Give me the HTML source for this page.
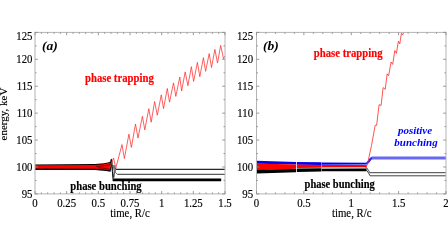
<!DOCTYPE html>
<html><head><meta charset="utf-8"><style>
html,body{margin:0;padding:0;background:#fff;overflow:hidden}
svg{display:block;filter:blur(0.3px)}
</style></head><body>
<svg width="448" height="252" viewBox="0 0 448 252">
<rect width="448" height="252" fill="#fff"/>
<path d="M35.00 164.40 L95.00 164.10 L104.00 163.30 L108.00 162.40 L110.60 161.60 L111.20 166.00 L110.60 171.80 L106.00 171.10 L100.00 170.40 L95.00 170.10 L35.00 169.90 Z" fill="#000"/>
<path d="M35.00 165.30 L95.00 165.10 L103.00 164.30 L107.00 163.40 L110.00 162.60 L110.40 166.00 L110.00 170.30 L105.00 169.70 L100.00 169.10 L95.00 168.70 L35.00 168.50 Z" fill="#f00"/>
<polyline points="96.00,166.50 100.00,166.20 104.00,165.80 108.00,165.20 110.50,164.50" stroke="#300" stroke-width="0.6" fill="none" stroke-linejoin="round" />
<polyline points="98.00,167.80 103.00,168.20 107.00,168.80 110.50,169.40" stroke="#200" stroke-width="0.6" fill="none" stroke-linejoin="round" />
<polyline points="110.50,163.00 111.30,159.20 112.30,170.00 113.20,180.80 114.30,179.80" stroke="#000" stroke-width="1.1" fill="none" stroke-linejoin="round" />
<polyline points="110.60,170.50 111.80,161.00 113.00,174.00 113.80,177.50 115.30,168.20 116.30,169.40" stroke="#222" stroke-width="0.8" fill="none" stroke-linejoin="round" />
<polyline points="112.50,172.00 114.00,165.00 115.50,172.50 117.30,174.30" stroke="#333" stroke-width="0.7" fill="none" stroke-linejoin="round" />
<path d="M116 169.4 H225.0" stroke="#262626" stroke-width="1.1"/>
<path d="M117.3 174.3 H225.0" stroke="#333" stroke-width="1"/>
<path d="M113.5 179.9 H221.2" stroke="#000" stroke-width="2.7"/>
<polyline points="109.50,168.00 112.20,161.00 113.60,158.00 115.80,168.00 122.00,144.60 124.40,158.50 128.90,134.20 131.40,147.40 135.50,124.10 138.00,138.00 142.40,116.30 144.80,129.90 148.80,108.70 151.20,122.20 154.60,101.60 157.30,115.20 161.30,94.80 163.50,108.70 167.30,88.50 169.50,102.10 173.50,82.90 175.80,96.40 179.80,77.00 181.60,91.00 185.20,71.90 187.90,85.70 191.40,66.70 193.60,81.40 197.40,62.40 199.80,76.70 203.40,57.70 205.60,71.30 209.20,53.60 211.50,67.50 214.90,49.40 217.50,63.10 220.70,45.40 223.50,58.70 225.00,56.00" stroke="#ff2a2a" stroke-width="0.75" fill="none" stroke-linejoin="round" />
<path d="M256.80 160.70 L296.00 161.90 L296.00 164.60 L256.80 163.80 Z" fill="#0000f5"/>
<path d="M256.80 163.60 L296.00 164.40 L296.00 168.80 L256.80 170.20 Z" fill="#f00"/>
<path d="M256.80 170.00 L296.00 168.70 L296.00 172.20 L256.80 173.50 Z" fill="#000"/>
<path d="M296.80 162.00 L321.50 162.30 L321.50 165.00 L296.80 164.70 Z" fill="#0000f5"/>
<path d="M296.80 164.60 L321.50 164.90 L321.50 167.70 L296.80 167.90 Z" fill="#f00"/>
<path d="M296.80 168.60 L321.50 168.20 L321.50 171.50 L296.80 171.90 Z" fill="#000"/>
<path d="M321.90 162.60 L366.60 162.70 L366.60 164.60 L321.90 164.80 Z" fill="#0000f5"/>
<path d="M321.90 165.10 L366.60 164.90 L366.60 167.20 L321.90 167.50 Z" fill="#f00"/>
<path d="M321.90 167.50 L366.60 167.20 L366.60 168.40 L321.90 168.60 Z" fill="#a9cfcf"/>
<path d="M321.90 168.70 L366.60 168.60 L366.60 171.30 L321.90 171.30 Z" fill="#000"/>
<polyline points="366.20,164.00 368.50,161.80 370.50,159.00 372.50,157.60" stroke="#2a2aff" stroke-width="2.2" fill="none" stroke-linejoin="round" />
<path d="M372 158.0 H446.0" stroke="#6868f5" stroke-width="2.8"/>
<polyline points="366.40,167.50 368.50,170.40 369.80,172.70 446.00,172.70" stroke="#404040" stroke-width="1" fill="none" stroke-linejoin="round" />
<polyline points="366.40,170.00 368.60,173.00 370.00,175.80 446.00,175.80" stroke="#404040" stroke-width="1" fill="none" stroke-linejoin="round" />
<polyline points="365.50,168.20 367.40,164.40 371.50,145.50 375.20,125.20 376.60,125.40 379.10,104.70 381.10,105.40 383.10,87.60 385.20,89.30 387.20,73.80 388.60,75.80 391.10,62.00 392.70,64.40 394.80,50.60 396.40,53.30 398.40,41.10 399.80,43.90 401.40,33.30 402.60,35.00 403.70,32.40" stroke="#ff2a2a" stroke-width="0.8" fill="none" stroke-linejoin="round" />
<rect x="35.0" y="32.4" width="190.0" height="161.5" fill="none" stroke="#b4b4b4" stroke-width="1"/>
<path d="M41.33 193.9v-1.5M41.33 32.4v1.5M47.67 193.9v-1.5M47.67 32.4v1.5M54.00 193.9v-1.5M54.00 32.4v1.5M60.33 193.9v-1.5M60.33 32.4v1.5M73.00 193.9v-1.5M73.00 32.4v1.5M79.33 193.9v-1.5M79.33 32.4v1.5M85.67 193.9v-1.5M85.67 32.4v1.5M92.00 193.9v-1.5M92.00 32.4v1.5M104.67 193.9v-1.5M104.67 32.4v1.5M111.00 193.9v-1.5M111.00 32.4v1.5M117.33 193.9v-1.5M117.33 32.4v1.5M123.67 193.9v-1.5M123.67 32.4v1.5M136.33 193.9v-1.5M136.33 32.4v1.5M142.67 193.9v-1.5M142.67 32.4v1.5M149.00 193.9v-1.5M149.00 32.4v1.5M155.33 193.9v-1.5M155.33 32.4v1.5M168.00 193.9v-1.5M168.00 32.4v1.5M174.33 193.9v-1.5M174.33 32.4v1.5M180.67 193.9v-1.5M180.67 32.4v1.5M187.00 193.9v-1.5M187.00 32.4v1.5M199.67 193.9v-1.5M199.67 32.4v1.5M206.00 193.9v-1.5M206.00 32.4v1.5M212.33 193.9v-1.5M212.33 32.4v1.5M218.67 193.9v-1.5M218.67 32.4v1.5M35.00 193.9v-2.8M35.00 32.4v2.8M66.67 193.9v-2.8M66.67 32.4v2.8M98.33 193.9v-2.8M98.33 32.4v2.8M130.00 193.9v-2.8M130.00 32.4v2.8M161.67 193.9v-2.8M161.67 32.4v2.8M193.33 193.9v-2.8M193.33 32.4v2.8M225.00 193.9v-2.8M225.00 32.4v2.8M35.0 193.90h2.8M225.0 193.90h-2.8M35.0 180.44h1.5M225.0 180.44h-1.5M35.0 166.98h2.8M225.0 166.98h-2.8M35.0 153.53h1.5M225.0 153.53h-1.5M35.0 140.07h2.8M225.0 140.07h-2.8M35.0 126.61h1.5M225.0 126.61h-1.5M35.0 113.15h2.8M225.0 113.15h-2.8M35.0 99.69h1.5M225.0 99.69h-1.5M35.0 86.23h2.8M225.0 86.23h-2.8M35.0 72.78h1.5M225.0 72.78h-1.5M35.0 59.32h2.8M225.0 59.32h-2.8M35.0 45.86h1.5M225.0 45.86h-1.5M35.0 32.40h2.8M225.0 32.40h-2.8" stroke="#8c8c8c" stroke-width="0.9" fill="none"/>
<rect x="256.5" y="32.4" width="189.5" height="161.5" fill="none" stroke="#b4b4b4" stroke-width="1"/>
<path d="M265.98 193.9v-1.5M265.98 32.4v1.5M275.45 193.9v-1.5M275.45 32.4v1.5M284.93 193.9v-1.5M284.93 32.4v1.5M294.40 193.9v-1.5M294.40 32.4v1.5M313.35 193.9v-1.5M313.35 32.4v1.5M322.82 193.9v-1.5M322.82 32.4v1.5M332.30 193.9v-1.5M332.30 32.4v1.5M341.77 193.9v-1.5M341.77 32.4v1.5M360.73 193.9v-1.5M360.73 32.4v1.5M370.20 193.9v-1.5M370.20 32.4v1.5M379.68 193.9v-1.5M379.68 32.4v1.5M389.15 193.9v-1.5M389.15 32.4v1.5M408.10 193.9v-1.5M408.10 32.4v1.5M417.58 193.9v-1.5M417.58 32.4v1.5M427.05 193.9v-1.5M427.05 32.4v1.5M436.52 193.9v-1.5M436.52 32.4v1.5M256.50 193.9v-2.8M256.50 32.4v2.8M303.88 193.9v-2.8M303.88 32.4v2.8M351.25 193.9v-2.8M351.25 32.4v2.8M398.62 193.9v-2.8M398.62 32.4v2.8M446.00 193.9v-2.8M446.00 32.4v2.8M256.5 193.90h2.8M446.0 193.90h-2.8M256.5 180.44h1.5M446.0 180.44h-1.5M256.5 166.98h2.8M446.0 166.98h-2.8M256.5 153.53h1.5M446.0 153.53h-1.5M256.5 140.07h2.8M446.0 140.07h-2.8M256.5 126.61h1.5M446.0 126.61h-1.5M256.5 113.15h2.8M446.0 113.15h-2.8M256.5 99.69h1.5M446.0 99.69h-1.5M256.5 86.23h2.8M446.0 86.23h-2.8M256.5 72.78h1.5M446.0 72.78h-1.5M256.5 59.32h2.8M446.0 59.32h-2.8M256.5 45.86h1.5M446.0 45.86h-1.5M256.5 32.40h2.8M446.0 32.40h-2.8" stroke="#8c8c8c" stroke-width="0.9" fill="none"/>
<text transform="translate(32.50,197.90) scale(0.9,1)" font-family="Liberation Serif, serif" font-size="12" text-anchor="end" stroke="#000" stroke-width="0.15">95</text>
<text transform="translate(32.50,170.98) scale(0.9,1)" font-family="Liberation Serif, serif" font-size="12" text-anchor="end" stroke="#000" stroke-width="0.15">100</text>
<text transform="translate(32.50,144.07) scale(0.9,1)" font-family="Liberation Serif, serif" font-size="12" text-anchor="end" stroke="#000" stroke-width="0.15">105</text>
<text transform="translate(32.50,117.15) scale(0.9,1)" font-family="Liberation Serif, serif" font-size="12" text-anchor="end" stroke="#000" stroke-width="0.15">110</text>
<text transform="translate(32.50,90.23) scale(0.9,1)" font-family="Liberation Serif, serif" font-size="12" text-anchor="end" stroke="#000" stroke-width="0.15">115</text>
<text transform="translate(32.50,63.32) scale(0.9,1)" font-family="Liberation Serif, serif" font-size="12" text-anchor="end" stroke="#000" stroke-width="0.15">120</text>
<text transform="translate(32.50,40.00) scale(0.9,1)" font-family="Liberation Serif, serif" font-size="12" text-anchor="end" stroke="#000" stroke-width="0.15">125</text>
<text transform="translate(253.10,197.90) scale(0.9,1)" font-family="Liberation Serif, serif" font-size="12" text-anchor="end" stroke="#000" stroke-width="0.15">95</text>
<text transform="translate(253.10,170.98) scale(0.9,1)" font-family="Liberation Serif, serif" font-size="12" text-anchor="end" stroke="#000" stroke-width="0.15">100</text>
<text transform="translate(253.10,144.07) scale(0.9,1)" font-family="Liberation Serif, serif" font-size="12" text-anchor="end" stroke="#000" stroke-width="0.15">105</text>
<text transform="translate(253.10,117.15) scale(0.9,1)" font-family="Liberation Serif, serif" font-size="12" text-anchor="end" stroke="#000" stroke-width="0.15">110</text>
<text transform="translate(253.10,90.23) scale(0.9,1)" font-family="Liberation Serif, serif" font-size="12" text-anchor="end" stroke="#000" stroke-width="0.15">115</text>
<text transform="translate(253.10,63.32) scale(0.9,1)" font-family="Liberation Serif, serif" font-size="12" text-anchor="end" stroke="#000" stroke-width="0.15">120</text>
<text transform="translate(253.10,40.00) scale(0.9,1)" font-family="Liberation Serif, serif" font-size="12" text-anchor="end" stroke="#000" stroke-width="0.15">125</text>
<text transform="translate(35.00,207.20) scale(0.9,1)" font-family="Liberation Serif, serif" font-size="12" text-anchor="middle" stroke="#000" stroke-width="0.15">0</text>
<text transform="translate(66.67,207.20) scale(0.9,1)" font-family="Liberation Serif, serif" font-size="12" text-anchor="middle" stroke="#000" stroke-width="0.15">0.25</text>
<text transform="translate(98.33,207.20) scale(0.9,1)" font-family="Liberation Serif, serif" font-size="12" text-anchor="middle" stroke="#000" stroke-width="0.15">0.5</text>
<text transform="translate(130.00,207.20) scale(0.9,1)" font-family="Liberation Serif, serif" font-size="12" text-anchor="middle" stroke="#000" stroke-width="0.15">0.75</text>
<text transform="translate(161.67,207.20) scale(0.9,1)" font-family="Liberation Serif, serif" font-size="12" text-anchor="middle" stroke="#000" stroke-width="0.15">1</text>
<text transform="translate(193.33,207.20) scale(0.9,1)" font-family="Liberation Serif, serif" font-size="12" text-anchor="middle" stroke="#000" stroke-width="0.15">1.25</text>
<text transform="translate(225.00,207.20) scale(0.9,1)" font-family="Liberation Serif, serif" font-size="12" text-anchor="middle" stroke="#000" stroke-width="0.15">1.5</text>
<text transform="translate(256.50,207.20) scale(0.9,1)" font-family="Liberation Serif, serif" font-size="12" text-anchor="middle" stroke="#000" stroke-width="0.15">0</text>
<text transform="translate(303.88,207.20) scale(0.9,1)" font-family="Liberation Serif, serif" font-size="12" text-anchor="middle" stroke="#000" stroke-width="0.15">0.5</text>
<text transform="translate(351.25,207.20) scale(0.9,1)" font-family="Liberation Serif, serif" font-size="12" text-anchor="middle" stroke="#000" stroke-width="0.15">1</text>
<text transform="translate(398.62,207.20) scale(0.9,1)" font-family="Liberation Serif, serif" font-size="12" text-anchor="middle" stroke="#000" stroke-width="0.15">1.5</text>
<text transform="translate(446.00,207.20) scale(0.9,1)" font-family="Liberation Serif, serif" font-size="12" text-anchor="middle" stroke="#000" stroke-width="0.15">2</text>
<text transform="translate(130.00,216.90) scale(0.915,1)" font-family="Liberation Serif, serif" font-size="11.8" text-anchor="middle" stroke="#000" stroke-width="0.15">time, R/c</text>
<text transform="translate(351.75,216.90) scale(0.915,1)" font-family="Liberation Serif, serif" font-size="11.8" text-anchor="middle" stroke="#000" stroke-width="0.15">time, R/c</text>
<text transform="translate(7.4,114) rotate(-90)" font-family="Liberation Serif, serif" font-size="11" text-anchor="middle" stroke="#000" stroke-width="0.15">energy, keV</text>
<text transform="translate(42.00,50.00) scale(1,1)" font-family="Liberation Serif, serif" font-size="13.5" text-anchor="start" font-weight="bold" font-style="italic">(a)</text>
<text transform="translate(263.00,49.50) scale(1,1)" font-family="Liberation Serif, serif" font-size="13.5" text-anchor="start" font-weight="bold" font-style="italic">(b)</text>
<text transform="translate(85.00,82.30) scale(0.975,1.06)" font-family="Liberation Serif, serif" font-size="11" text-anchor="start" font-weight="bold" fill="#ff0000" stroke="#ff0000" stroke-width="0.15">phase trapping</text>
<text transform="translate(313.80,56.60) scale(0.975,1.06)" font-family="Liberation Serif, serif" font-size="11" text-anchor="start" font-weight="bold" fill="#ff0000" stroke="#ff0000" stroke-width="0.15">phase trapping</text>
<text transform="translate(70.30,189.80) scale(0.97,1.06)" font-family="Liberation Serif, serif" font-size="11" text-anchor="start" font-weight="bold" stroke="#000" stroke-width="0.15">phase bunching</text>
<text transform="translate(304.60,188.30) scale(0.955,1.06)" font-family="Liberation Serif, serif" font-size="11" text-anchor="start" font-weight="bold" stroke="#000" stroke-width="0.15">phase bunching</text>
<text transform="translate(415.00,134.40) scale(1,1)" font-family="Liberation Serif, serif" font-size="11" text-anchor="middle" font-weight="bold" font-style="italic" fill="#0000ff">positive</text>
<text transform="translate(416.00,145.80) scale(1,1)" font-family="Liberation Serif, serif" font-size="11" text-anchor="middle" font-weight="bold" font-style="italic" fill="#0000ff">bunching</text>
</svg>
</body></html>
